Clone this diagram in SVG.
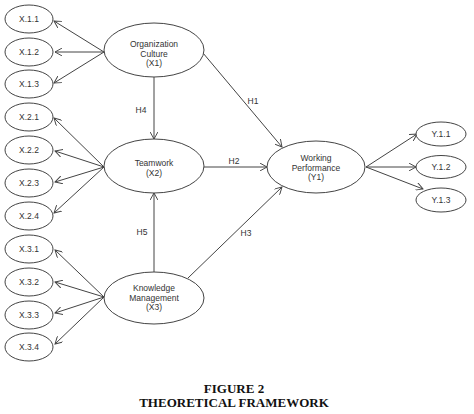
<svg xmlns="http://www.w3.org/2000/svg" width="474" height="414" viewBox="0 0 474 414">
<style>
.n ellipse{fill:#fff;stroke:#444;stroke-width:1}
.n text,.lbl{font-family:"Liberation Sans",Arial,sans-serif;font-size:8.5px;fill:#333;text-anchor:middle}
.c line{stroke:#444;stroke-width:1;fill:none}
.a{marker-end:url(#arr)}
.cap{font-family:"Liberation Serif","Times New Roman",serif;font-size:13px;font-weight:bold;fill:#111;text-anchor:middle}
</style>
<defs>
<marker id="arr" viewBox="0 0 10 10" refX="9" refY="5" markerWidth="8" markerHeight="8" markerUnits="userSpaceOnUse" orient="auto">
<path d="M0,0 L9,5 L0,10" fill="none" stroke="#444" stroke-width="1.2"/>
</marker>
</defs>
<rect width="474" height="414" fill="#fff"/>
<g class="c">
<line class="a" x1="104" y1="52" x2="54" y2="21"/>
<line class="a" x1="104" y1="52" x2="55" y2="52"/>
<line class="a" x1="104" y1="52" x2="54" y2="83"/>
<line class="a" x1="104" y1="167" x2="54" y2="118"/>
<line class="a" x1="104" y1="167" x2="55" y2="151"/>
<line class="a" x1="104" y1="167" x2="55" y2="182"/>
<line class="a" x1="104" y1="167" x2="54" y2="213"/>
<line class="a" x1="104" y1="297" x2="55" y2="250"/>
<line class="a" x1="104" y1="297" x2="55" y2="282"/>
<line class="a" x1="104" y1="297" x2="55" y2="313"/>
<line class="a" x1="104" y1="297" x2="55" y2="344"/>
<line class="a" x1="154" y1="77" x2="154" y2="139"/>
<line class="a" x1="154" y1="272" x2="154" y2="193"/>
<line class="a" x1="203" y1="53" x2="282" y2="147"/>
<line class="a" x1="203" y1="167" x2="267" y2="167"/>
<line class="a" x1="188" y1="278" x2="282" y2="187"/>
<line class="a" x1="366" y1="167" x2="417" y2="134"/>
<line class="a" x1="366" y1="167" x2="416" y2="167"/>
<line class="a" x1="366" y1="167" x2="423" y2="189"/>
<text class="lbl" x="141" y="113">H4</text>
<text class="lbl" x="142" y="235">H5</text>
<text class="lbl" x="253" y="104">H1</text>
<text class="lbl" x="234" y="164">H2</text>
<text class="lbl" x="246" y="236">H3</text>
</g>
<g id="x11" class="n"><ellipse cx="29" cy="19" rx="24" ry="14"/><text x="29" y="22">X.1.1</text></g>
<g id="x12" class="n"><ellipse cx="29" cy="52" rx="24" ry="14"/><text x="29" y="55">X.1.2</text></g>
<g id="x13" class="n"><ellipse cx="29" cy="84" rx="24" ry="14"/><text x="29" y="87">X.1.3</text></g>
<g id="x21" class="n"><ellipse cx="29" cy="117" rx="24" ry="14"/><text x="29" y="120">X.2.1</text></g>
<g id="x22" class="n"><ellipse cx="29" cy="150" rx="24" ry="14"/><text x="29" y="153">X.2.2</text></g>
<g id="x23" class="n"><ellipse cx="29" cy="183" rx="24" ry="14"/><text x="29" y="186">X.2.3</text></g>
<g id="x24" class="n"><ellipse cx="29" cy="216" rx="24" ry="14"/><text x="29" y="219">X.2.4</text></g>
<g id="x31" class="n"><ellipse cx="29" cy="249" rx="24" ry="14"/><text x="29" y="252">X.3.1</text></g>
<g id="x32" class="n"><ellipse cx="29" cy="282" rx="24" ry="14"/><text x="29" y="285">X.3.2</text></g>
<g id="x33" class="n"><ellipse cx="29" cy="315" rx="24" ry="14"/><text x="29" y="318">X.3.3</text></g>
<g id="x34" class="n"><ellipse cx="29" cy="347" rx="24" ry="14"/><text x="29" y="350">X.3.4</text></g>
<g id="X1" class="n"><ellipse cx="154" cy="50" rx="50" ry="27"/><text x="154" y="47">Organization</text><text x="154" y="56.5">Culture</text><text x="154" y="66">(X1)</text></g>
<g id="X2" class="n"><ellipse cx="154" cy="166" rx="50" ry="27"/><text x="154" y="166">Teamwork</text><text x="154" y="175.5">(X2)</text></g>
<g id="X3" class="n"><ellipse cx="154" cy="298" rx="50" ry="26"/><text x="154" y="291">Knowledge</text><text x="154" y="300.5">Management</text><text x="154" y="310">(X3)</text></g>
<g id="Y1" class="n"><ellipse cx="316" cy="167" rx="49" ry="26"/><text x="316" y="161">Working</text><text x="316" y="170.5">Performance</text><text x="316" y="180">(Y1)</text></g>
<g id="y11" class="n"><ellipse cx="441" cy="134" rx="25" ry="12"/><text x="441" y="137">Y.1.1</text></g>
<g id="y12" class="n"><ellipse cx="441" cy="167" rx="25" ry="11.5"/><text x="441" y="170">Y.1.2</text></g>
<g id="y13" class="n"><ellipse cx="441" cy="200" rx="25" ry="12"/><text x="441" y="203">Y.1.3</text></g>
<text class="cap" x="234" y="393">FIGURE 2</text>
<text class="cap" x="234" y="407">THEORETICAL FRAMEWORK</text>
</svg>
